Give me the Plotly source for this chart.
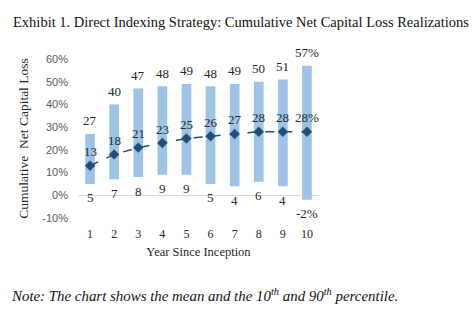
import plotly.graph_objects as go

years = [1, 2, 3, 4, 5, 6, 7, 8, 9, 10]
p10 = [5, 7, 8, 9, 9, 5, 4, 6, 4, -2]
p90 = [27, 40, 47, 48, 49, 48, 49, 50, 51, 57]
mean = [13, 18, 21, 23, 25, 26, 27, 28, 28, 28]
ytick_vals = [-10, 0, 10, 20, 30, 40, 50, 60]

def labels(vals):
    return [f"{v}%" if i == len(vals) - 1 else f"{v}" for i, v in enumerate(vals)]

FONT = "Liberation Serif"
BAR = "#9DC3E6"
LINE = "#1F4E79"
TXT = "#262626"
LBL = 13

fig = go.Figure()
fig.add_trace(go.Bar(
    x=years, y=[a - b for a, b in zip(p90, p10)], base=p10,
    width=0.4, marker=dict(color=BAR, line=dict(width=0)),
    hoverinfo="skip", showlegend=False,
))
fig.add_trace(go.Scatter(
    x=years, y=mean, mode="lines+markers",
    line=dict(color=LINE, width=1.5, dash="dash"),
    marker=dict(symbol="diamond", size=8, color=LINE),
    showlegend=False,
))

annots = []
for x, v, t in zip(years, mean, labels(mean)):
    annots.append(dict(x=x, y=v, text=t, showarrow=False, yshift=14, yanchor="middle",
                       font=dict(family=FONT, size=LBL, color=TXT)))
for x, v, t in zip(years, p90, labels(p90)):
    annots.append(dict(x=x, y=v, text=t, showarrow=False, yshift=13, yanchor="middle",
                       font=dict(family=FONT, size=LBL, color=TXT)))
for x, v, t in zip(years, p10, labels(p10)):
    annots.append(dict(x=x, y=v, text=t, showarrow=False, yshift=-14, yanchor="middle",
                       font=dict(family=FONT, size=LBL, color=TXT)))

annots.append(dict(text="Exhibit 1. Direct Indexing Strategy: Cumulative Net Capital Loss Realizations",
                   xref="paper", yref="paper", x=-67/241, y=1 + 37/159, xanchor="left", yanchor="middle",
                   showarrow=False, font=dict(family=FONT, size=14.5, color="#111111")))
annots.append(dict(text="<i>Note: The chart shows the mean and the 10<sup>th</sup> and 90<sup>th</sup> percentile.</i>",
                   xref="paper", yref="paper", x=-69/241, y=-(295 - 218) / 159, xanchor="left", yanchor="middle",
                   showarrow=False, font=dict(family=FONT, size=14.9, color="#111111")))

fig.update_layout(
    width=474, height=325,
    margin=dict(l=78, r=155, t=59, b=107),
    paper_bgcolor="white", plot_bgcolor="white",
    font=dict(family=FONT, size=13, color=TXT),
    xaxis=dict(
        range=[0.5, 10.5], tickvals=years, ticktext=[str(y) for y in years],
        showgrid=False, zeroline=False, showline=False, ticks="",
        tickfont=dict(size=12, color=TXT), ticklabelstandoff=7,
        title=dict(text="Year Since Inception", font=dict(size=12.5, color=TXT), standoff=7),
    ),
    yaxis=dict(
        range=[-10, 60], tickvals=ytick_vals, ticktext=[f"{v}%" for v in ytick_vals],
        showgrid=False, zeroline=True, zerolinecolor="#D9D9D9", zerolinewidth=1,
        showline=False, ticks="", ticklabelstandoff=9,
        tickfont=dict(family="Liberation Sans", size=11, color="#595959"),
        title=dict(text="Cumulative  Net Capital Loss", font=dict(size=13.5, color=TXT), standoff=10),
    ),
    annotations=annots,
)

fig.write_html("out.html")
